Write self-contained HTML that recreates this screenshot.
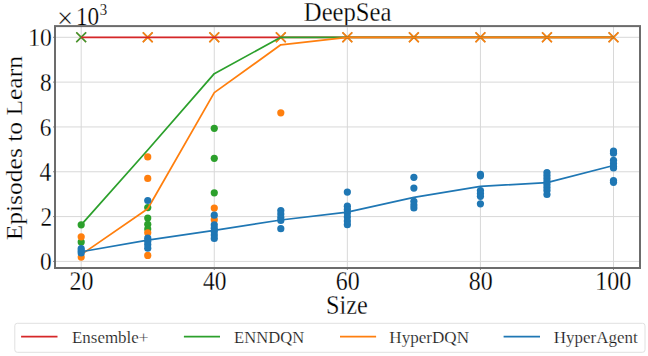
<!DOCTYPE html>
<html><head><meta charset="utf-8"><style>
html,body{margin:0;padding:0;background:#fff;width:648px;height:356px;overflow:hidden}
svg{display:block;font-family:"Liberation Serif",serif}
</style></head><body>
<svg width="648" height="356" viewBox="0 0 648 356" font-family="Liberation Serif, serif"><line x1="81.20" y1="26.1" x2="81.20" y2="268.0" stroke="#d8d8d8" stroke-width="1.0"/>
<line x1="214.28" y1="26.1" x2="214.28" y2="268.0" stroke="#d8d8d8" stroke-width="1.0"/>
<line x1="347.35" y1="26.1" x2="347.35" y2="268.0" stroke="#d8d8d8" stroke-width="1.0"/>
<line x1="480.43" y1="26.1" x2="480.43" y2="268.0" stroke="#d8d8d8" stroke-width="1.0"/>
<line x1="613.50" y1="26.1" x2="613.50" y2="268.0" stroke="#d8d8d8" stroke-width="1.0"/>
<line x1="55.0" y1="261.40" x2="640.0" y2="261.40" stroke="#d8d8d8" stroke-width="1.0"/>
<line x1="55.0" y1="216.58" x2="640.0" y2="216.58" stroke="#d8d8d8" stroke-width="1.0"/>
<line x1="55.0" y1="171.76" x2="640.0" y2="171.76" stroke="#d8d8d8" stroke-width="1.0"/>
<line x1="55.0" y1="126.94" x2="640.0" y2="126.94" stroke="#d8d8d8" stroke-width="1.0"/>
<line x1="55.0" y1="82.12" x2="640.0" y2="82.12" stroke="#d8d8d8" stroke-width="1.0"/>
<line x1="55.0" y1="37.30" x2="640.0" y2="37.30" stroke="#d8d8d8" stroke-width="1.0"/>
<path d="M76.30,32.40L86.10,42.20M76.30,42.20L86.10,32.40" stroke="#a08a50" stroke-width="1.8" fill="none"/>
<path d="M76.30,32.40L86.10,42.20M76.30,42.20L86.10,32.40" stroke="#2ca02c" stroke-width="1.2" fill="none"/>
<path d="M142.84,32.40L152.64,42.20M142.84,42.20L152.64,32.40" stroke="#c09040" stroke-width="1.8" fill="none"/>
<path d="M142.84,32.40L152.64,42.20M142.84,42.20L152.64,32.40" stroke="#ff7f0e" stroke-width="1.3" fill="none"/>
<path d="M209.38,32.40L219.18,42.20M209.38,42.20L219.18,32.40" stroke="#c09040" stroke-width="1.8" fill="none"/>
<path d="M209.38,32.40L219.18,42.20M209.38,42.20L219.18,32.40" stroke="#ff7f0e" stroke-width="1.3" fill="none"/>
<path d="M275.91,32.40L285.71,42.20M275.91,42.20L285.71,32.40" stroke="#c09040" stroke-width="1.8" fill="none"/>
<path d="M275.91,32.40L285.71,42.20M275.91,42.20L285.71,32.40" stroke="#ff7f0e" stroke-width="1.3" fill="none"/>
<path d="M342.45,32.40L352.25,42.20M342.45,42.20L352.25,32.40" stroke="#c09040" stroke-width="1.8" fill="none"/>
<path d="M342.45,32.40L352.25,42.20M342.45,42.20L352.25,32.40" stroke="#ff7f0e" stroke-width="1.3" fill="none"/>
<path d="M408.99,32.40L418.79,42.20M408.99,42.20L418.79,32.40" stroke="#c09040" stroke-width="1.8" fill="none"/>
<path d="M408.99,32.40L418.79,42.20M408.99,42.20L418.79,32.40" stroke="#ff7f0e" stroke-width="1.3" fill="none"/>
<path d="M475.53,32.40L485.33,42.20M475.53,42.20L485.33,32.40" stroke="#c09040" stroke-width="1.8" fill="none"/>
<path d="M475.53,32.40L485.33,42.20M475.53,42.20L485.33,32.40" stroke="#ff7f0e" stroke-width="1.3" fill="none"/>
<path d="M542.07,32.40L551.87,42.20M542.07,42.20L551.87,32.40" stroke="#c09040" stroke-width="1.8" fill="none"/>
<path d="M542.07,32.40L551.87,42.20M542.07,42.20L551.87,32.40" stroke="#ff7f0e" stroke-width="1.3" fill="none"/>
<path d="M608.60,32.40L618.40,42.20M608.60,42.20L618.40,32.40" stroke="#c09040" stroke-width="1.8" fill="none"/>
<path d="M608.60,32.40L618.40,42.20M608.60,42.20L618.40,32.40" stroke="#ff7f0e" stroke-width="1.3" fill="none"/>
<polyline points="81.20,37.30 613.50,37.30" fill="none" stroke="#d62728" stroke-width="1.75" stroke-linejoin="round" stroke-linecap="butt"/>
<polyline points="81.20,224.90 147.74,150.00 214.28,73.70 280.81,37.30 347.35,37.30 613.50,37.30" fill="none" stroke="#2ca02c" stroke-width="1.75" stroke-linejoin="round" stroke-linecap="butt"/>
<circle cx="81.20" cy="224.80" r="3.6" fill="#2ca02c"/>
<circle cx="81.20" cy="242.10" r="3.6" fill="#2ca02c"/>
<circle cx="147.74" cy="207.60" r="3.6" fill="#2ca02c"/>
<circle cx="147.74" cy="218.10" r="3.6" fill="#2ca02c"/>
<circle cx="147.74" cy="224.30" r="3.6" fill="#2ca02c"/>
<circle cx="147.74" cy="229.00" r="3.6" fill="#2ca02c"/>
<circle cx="214.28" cy="128.30" r="3.6" fill="#2ca02c"/>
<circle cx="214.28" cy="158.30" r="3.6" fill="#2ca02c"/>
<circle cx="214.28" cy="192.80" r="3.6" fill="#2ca02c"/>
<polyline points="81.20,254.60 147.74,208.70 214.28,92.60 280.81,44.80 347.35,37.30 613.50,37.30" fill="none" stroke="#ff7f0e" stroke-width="1.75" stroke-linejoin="round" stroke-linecap="butt"/>
<circle cx="81.20" cy="236.80" r="3.6" fill="#ff7f0e"/>
<circle cx="81.20" cy="257.10" r="3.6" fill="#ff7f0e"/>
<circle cx="147.74" cy="156.90" r="3.6" fill="#ff7f0e"/>
<circle cx="147.74" cy="178.40" r="3.6" fill="#ff7f0e"/>
<circle cx="147.74" cy="232.80" r="3.6" fill="#ff7f0e"/>
<circle cx="147.74" cy="255.40" r="3.6" fill="#ff7f0e"/>
<circle cx="214.28" cy="208.10" r="3.6" fill="#ff7f0e"/>
<circle cx="214.28" cy="219.70" r="3.6" fill="#ff7f0e"/>
<circle cx="280.81" cy="112.80" r="3.6" fill="#ff7f0e"/>
<polyline points="81.20,251.75 147.74,240.15 214.28,230.40 280.81,220.00 347.35,212.05 413.89,197.35 480.43,186.30 546.97,182.65 613.50,165.50" fill="none" stroke="#1f77b4" stroke-width="1.75" stroke-linejoin="round" stroke-linecap="butt"/>
<circle cx="81.20" cy="248.60" r="3.6" fill="#1f77b4"/>
<circle cx="81.20" cy="250.80" r="3.6" fill="#1f77b4"/>
<circle cx="81.20" cy="252.90" r="3.6" fill="#1f77b4"/>
<circle cx="147.74" cy="200.50" r="3.6" fill="#1f77b4"/>
<circle cx="147.74" cy="238.20" r="3.6" fill="#1f77b4"/>
<circle cx="147.74" cy="241.30" r="3.6" fill="#1f77b4"/>
<circle cx="147.74" cy="244.60" r="3.6" fill="#1f77b4"/>
<circle cx="147.74" cy="248.20" r="3.6" fill="#1f77b4"/>
<circle cx="214.28" cy="215.20" r="3.6" fill="#1f77b4"/>
<circle cx="214.28" cy="224.80" r="3.6" fill="#1f77b4"/>
<circle cx="214.28" cy="228.20" r="3.6" fill="#1f77b4"/>
<circle cx="214.28" cy="231.60" r="3.6" fill="#1f77b4"/>
<circle cx="214.28" cy="235.00" r="3.6" fill="#1f77b4"/>
<circle cx="214.28" cy="238.40" r="3.6" fill="#1f77b4"/>
<circle cx="280.81" cy="210.50" r="3.6" fill="#1f77b4"/>
<circle cx="280.81" cy="214.00" r="3.6" fill="#1f77b4"/>
<circle cx="280.81" cy="217.50" r="3.6" fill="#1f77b4"/>
<circle cx="280.81" cy="220.50" r="3.6" fill="#1f77b4"/>
<circle cx="280.81" cy="228.70" r="3.6" fill="#1f77b4"/>
<circle cx="347.35" cy="192.10" r="3.6" fill="#1f77b4"/>
<circle cx="347.35" cy="206.20" r="3.6" fill="#1f77b4"/>
<circle cx="347.35" cy="209.50" r="3.6" fill="#1f77b4"/>
<circle cx="347.35" cy="213.00" r="3.6" fill="#1f77b4"/>
<circle cx="347.35" cy="217.00" r="3.6" fill="#1f77b4"/>
<circle cx="347.35" cy="221.00" r="3.6" fill="#1f77b4"/>
<circle cx="347.35" cy="224.70" r="3.6" fill="#1f77b4"/>
<circle cx="413.89" cy="177.30" r="3.6" fill="#1f77b4"/>
<circle cx="413.89" cy="188.10" r="3.6" fill="#1f77b4"/>
<circle cx="413.89" cy="201.30" r="3.6" fill="#1f77b4"/>
<circle cx="413.89" cy="205.00" r="3.6" fill="#1f77b4"/>
<circle cx="413.89" cy="208.00" r="3.6" fill="#1f77b4"/>
<circle cx="480.43" cy="174.40" r="3.6" fill="#1f77b4"/>
<circle cx="480.43" cy="175.80" r="3.6" fill="#1f77b4"/>
<circle cx="480.43" cy="190.50" r="3.6" fill="#1f77b4"/>
<circle cx="480.43" cy="193.50" r="3.6" fill="#1f77b4"/>
<circle cx="480.43" cy="196.30" r="3.6" fill="#1f77b4"/>
<circle cx="480.43" cy="203.80" r="3.6" fill="#1f77b4"/>
<circle cx="546.97" cy="172.60" r="3.6" fill="#1f77b4"/>
<circle cx="546.97" cy="175.50" r="3.6" fill="#1f77b4"/>
<circle cx="546.97" cy="178.50" r="3.6" fill="#1f77b4"/>
<circle cx="546.97" cy="181.50" r="3.6" fill="#1f77b4"/>
<circle cx="546.97" cy="184.50" r="3.6" fill="#1f77b4"/>
<circle cx="546.97" cy="187.50" r="3.6" fill="#1f77b4"/>
<circle cx="546.97" cy="190.50" r="3.6" fill="#1f77b4"/>
<circle cx="546.97" cy="194.50" r="3.6" fill="#1f77b4"/>
<circle cx="613.50" cy="151.00" r="3.6" fill="#1f77b4"/>
<circle cx="613.50" cy="153.20" r="3.6" fill="#1f77b4"/>
<circle cx="613.50" cy="160.30" r="3.6" fill="#1f77b4"/>
<circle cx="613.50" cy="163.50" r="3.6" fill="#1f77b4"/>
<circle cx="613.50" cy="166.50" r="3.6" fill="#1f77b4"/>
<circle cx="613.50" cy="168.00" r="3.6" fill="#1f77b4"/>
<circle cx="613.50" cy="180.50" r="3.6" fill="#1f77b4"/>
<circle cx="613.50" cy="182.30" r="3.6" fill="#1f77b4"/>
<text transform="translate(303.86,20.60) scale(0.2464,0.2631)" font-size="100" fill="#000" stroke="#fff" stroke-width="1.0" >DeepSea</text>
<text transform="translate(56.90,27.90) scale(0.2875,0.2925)" font-size="100" fill="#000" stroke="#fff" stroke-width="1.0" >×</text>
<text transform="translate(75.91,24.61) scale(0.2322,0.2471)" font-size="100" fill="#000" stroke="#fff" stroke-width="1.0" >10</text>
<text transform="translate(99.66,15.13) scale(0.1488,0.1697)" font-size="100" fill="#000" stroke="#fff" stroke-width="1.0" >3</text>
<text transform="translate(28.18,46.09) scale(0.2356,0.2529)" font-size="100" fill="#000" stroke="#fff" stroke-width="1.0" >10</text>
<text transform="translate(39.97,270.04) scale(0.2333,0.2552)" font-size="100" fill="#000" stroke="#fff" stroke-width="1.0" >0</text>
<text transform="translate(40.48,225.73) scale(0.2324,0.2631)" font-size="100" fill="#000" stroke="#fff" stroke-width="1.0" >2</text>
<text transform="translate(39.42,180.91) scale(0.2350,0.2631)" font-size="100" fill="#000" stroke="#fff" stroke-width="1.0" >4</text>
<text transform="translate(39.71,135.58) scale(0.2338,0.2552)" font-size="100" fill="#000" stroke="#fff" stroke-width="1.0" >6</text>
<text transform="translate(39.97,90.76) scale(0.2333,0.2552)" font-size="100" fill="#000" stroke="#fff" stroke-width="1.0" >8</text>
<text transform="translate(69.54,290.06) scale(0.2391,0.2687)" font-size="100" fill="#000" stroke="#fff" stroke-width="1.0" >20</text>
<text transform="translate(203.11,290.06) scale(0.2340,0.2687)" font-size="100" fill="#000" stroke="#fff" stroke-width="1.0" >40</text>
<text transform="translate(335.70,290.06) scale(0.2391,0.2687)" font-size="100" fill="#000" stroke="#fff" stroke-width="1.0" >60</text>
<text transform="translate(468.77,290.06) scale(0.2391,0.2687)" font-size="100" fill="#000" stroke="#fff" stroke-width="1.0" >80</text>
<text transform="translate(595.23,290.07) scale(0.2409,0.2647)" font-size="100" fill="#000" stroke="#fff" stroke-width="1.0" >100</text>
<text transform="translate(326.00,314.20) scale(0.2426,0.2631)" font-size="100" fill="#000" stroke="#fff" stroke-width="1.0" >Size</text>
<text transform="translate(21.90,240.37) rotate(-90) scale(0.2555,0.2406)" font-size="100" fill="#000" stroke="#fff" stroke-width="1.0">Episodes to Learn</text>
<rect x="55.0" y="26.1" width="585.0" height="241.9" fill="none" stroke="#6c6c6c" stroke-width="2.0"/>
<line x1="81.20" y1="268.0" x2="81.20" y2="269.8" stroke="#6c6c6c" stroke-width="1"/>
<line x1="214.28" y1="268.0" x2="214.28" y2="269.8" stroke="#6c6c6c" stroke-width="1"/>
<line x1="347.35" y1="268.0" x2="347.35" y2="269.8" stroke="#6c6c6c" stroke-width="1"/>
<line x1="480.43" y1="268.0" x2="480.43" y2="269.8" stroke="#6c6c6c" stroke-width="1"/>
<line x1="613.50" y1="268.0" x2="613.50" y2="269.8" stroke="#6c6c6c" stroke-width="1"/>
<line x1="55.0" y1="261.40" x2="53.2" y2="261.40" stroke="#6c6c6c" stroke-width="1"/>
<line x1="55.0" y1="216.58" x2="53.2" y2="216.58" stroke="#6c6c6c" stroke-width="1"/>
<line x1="55.0" y1="171.76" x2="53.2" y2="171.76" stroke="#6c6c6c" stroke-width="1"/>
<line x1="55.0" y1="126.94" x2="53.2" y2="126.94" stroke="#6c6c6c" stroke-width="1"/>
<line x1="55.0" y1="82.12" x2="53.2" y2="82.12" stroke="#6c6c6c" stroke-width="1"/>
<line x1="55.0" y1="37.30" x2="53.2" y2="37.30" stroke="#6c6c6c" stroke-width="1"/>
<rect x="14.8" y="323.3" width="630.2" height="29.0" rx="2.5" ry="2.5" fill="#ffffff" fill-opacity="0.8" stroke="#e0e0e0" stroke-width="1"/>
<line x1="21.1" y1="336.6" x2="57.5" y2="336.6" stroke="#d62728" stroke-width="1.75"/>
<line x1="183.9" y1="336.6" x2="220.0" y2="336.6" stroke="#2ca02c" stroke-width="1.75"/>
<line x1="340.0" y1="336.6" x2="376.1" y2="336.6" stroke="#ff7f0e" stroke-width="1.75"/>
<line x1="503.6" y1="336.6" x2="540.0" y2="336.6" stroke="#1f77b4" stroke-width="1.75"/>
<text transform="translate(71.99,342.60) scale(0.1695,0.1623)" font-size="100" fill="#1a1a1a" stroke="#fff" stroke-width="1.0" >Ensemble+</text>
<text transform="translate(234.10,342.60) scale(0.1659,0.1723)" font-size="100" fill="#1a1a1a" stroke="#fff" stroke-width="1.0" >ENNDQN</text>
<text transform="translate(389.29,342.60) scale(0.1709,0.1723)" font-size="100" fill="#1a1a1a" stroke="#fff" stroke-width="1.0" >HyperDQN</text>
<text transform="translate(553.79,342.60) scale(0.1697,0.1697)" font-size="100" fill="#1a1a1a" stroke="#fff" stroke-width="1.0" >HyperAgent</text></svg>
</body></html>
